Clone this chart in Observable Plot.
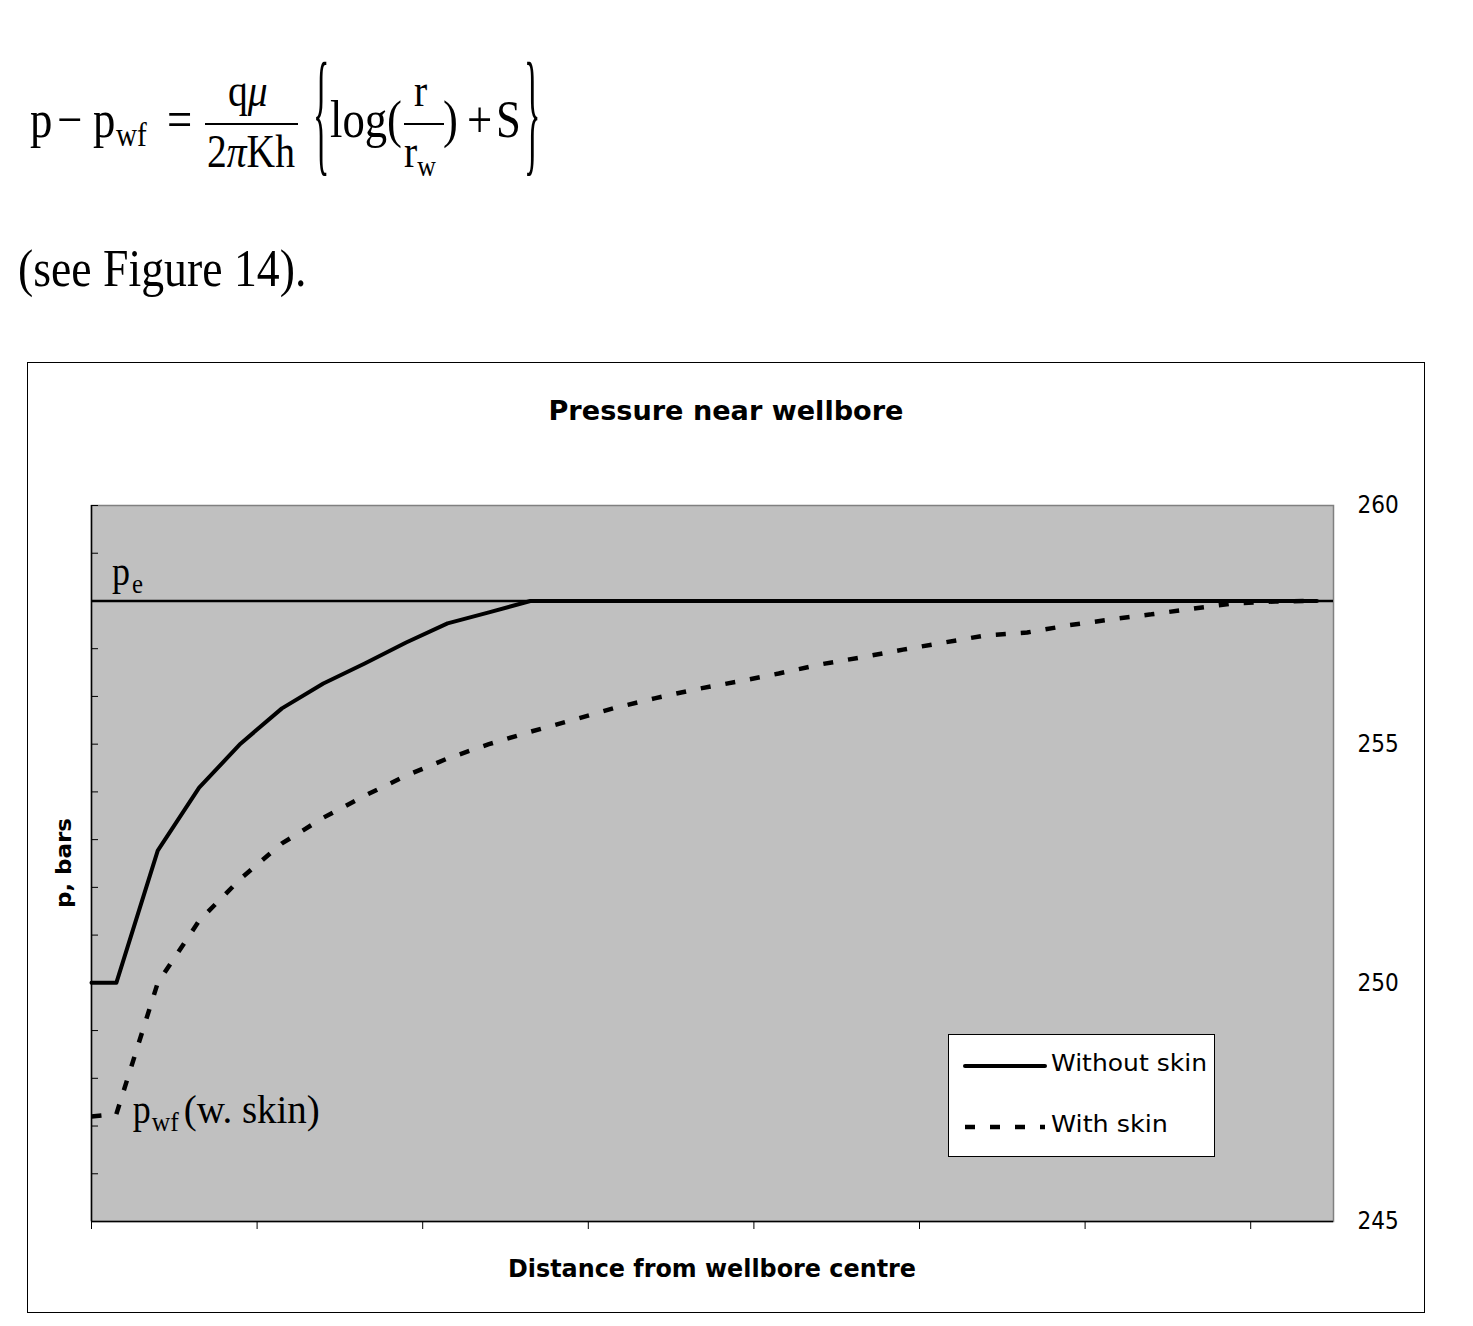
<!DOCTYPE html>
<html><head><meta charset="utf-8">
<script src="https://cdn.jsdelivr.net/npm/d3@7"></script>
<script src="https://cdn.jsdelivr.net/npm/@observablehq/plot@0.6"></script>
<style>
html,body{margin:0;padding:0;background:#fff;overflow:hidden;}
#page{position:relative;width:1473px;height:1326px;}
#page > *{position:absolute;left:0;top:0;}
#box{left:27px;top:362px;width:1398px;height:951px;border:1px solid #000;box-sizing:border-box;}
svg text{white-space:pre;}
</style></head>
<body><div id="page">
<svg id="head" width="1473" height="360"></svg>
<div id="box"></div>
<div id="chart"></div>
<svg id="over" width="1473" height="1326"></svg>
</div>
<script>
// ---- data ----
const distance = [0, 0.6, 1.6, 2.6, 3.6, 4.6, 5.6, 6.6, 7.6, 8.6, 9.6, 10.6, 11.6, 12.6, 13.6, 14.6, 15.6, 16.6, 17.6, 18.6, 19.6, 20.6, 21.6, 22.6, 23.6, 24.6, 25.6, 26.6, 27.6, 28.6, 29.6];
const withoutSkin = [250, 250, 252.77, 254.09, 255.01, 255.75, 256.27, 256.69, 257.13, 257.53, 257.76, 258, 258, 258, 258, 258, 258, 258, 258, 258, 258, 258, 258, 258, 258, 258, 258, 258, 258, 258, 258];
const withSkin = [247.2, 247.25, 250.0, 251.3, 252.18, 252.92, 253.46, 253.92, 254.34, 254.7, 255.0, 255.26, 255.5, 255.75, 255.96, 256.15, 256.31, 256.48, 256.67, 256.82, 256.98, 257.13, 257.28, 257.34, 257.49, 257.61, 257.72, 257.84, 257.95, 257.99, 258.0];
const pressureLabels = [245, 250, 255, 260];
const pressureMinorTicks = [245, 246, 247, 248, 249, 250, 251, 252, 253, 254, 255, 256, 257, 258, 259, 260];
const distanceTicks = [0, 4, 8, 12, 16, 20, 24, 28];
const reservoirPressure = [258];
const seriesNames = ["Without skin", "With skin"];

const rowsA = distance.map((d, i) => ({d, p: withoutSkin[i]}));
const rowsB = distance.map((d, i) => ({d, p: withSkin[i]}));

const chart = Plot.plot({
  width: 1473, height: 1326,
  marginLeft: 91, marginRight: 140, marginTop: 505, marginBottom: 105,
  x: {domain: [0, 30]},
  y: {domain: [245, 260]},
  style: {background: "transparent", fontFamily: "'DejaVu Sans Condensed','DejaVu Sans',sans-serif", fontSize: "24px", color: "#000", fontStretch: "condensed"},
  marks: [
    Plot.frame({fill: "#c0c0c0", stroke: "#808080", strokeWidth: 1.5}),
    Plot.axisY({anchor: "left", ticks: pressureMinorTicks, tickSize: 7, dx: 7, tickFormat: () => "", label: null, stroke: "#000"}),
    Plot.axisY({anchor: "right", ticks: pressureLabels, tickSize: 0, tickPadding: 24, label: null, fontSize: 24}),
    Plot.axisX({ticks: distanceTicks, tickSize: 8, tickFormat: () => "", label: null, stroke: "#000"}),
    Plot.ruleX([0], {stroke: "#000", strokeWidth: 1.5}),
    Plot.ruleY([245], {stroke: "#000", strokeWidth: 1.5}),
    Plot.ruleY(reservoirPressure, {stroke: "#000", strokeWidth: 2.5}),
    Plot.line(rowsB, {x: "d", y: "p", stroke: "#000", strokeWidth: 4.5, strokeDasharray: "10,15", strokeLinecap: "butt", strokeLinejoin: "miter"}),
    Plot.line(rowsA, {x: "d", y: "p", stroke: "#000", strokeWidth: 4})
  ]
});
document.getElementById("chart").appendChild(chart);

const sx = v => chart.scale("x").apply(v);
const sy = v => chart.scale("y").apply(v);

const SERIF = "'Liberation Serif','Times New Roman',serif";
const SANS = "'DejaVu Sans',sans-serif";
function t(sel, str, x, y, fs, len, extra = {}) {
  const e = sel.append("text").attr("x", x).attr("y", y).attr("font-size", fs)
    .attr("font-family", extra.family || SERIF).attr("fill", "#000").text(str);
  if (len) e.attr("textLength", len).attr("lengthAdjust", "spacingAndGlyphs");
  if (extra.italic) e.attr("font-style", "italic");
  if (extra.weight) e.attr("font-weight", extra.weight);
  if (extra.anchor) e.attr("text-anchor", extra.anchor);
  return e;
}

// ---- header text (formula), horizontally condensed serif ----
const head = d3.select("#head");
const K = 0.86;
const hg = head.append("g").attr("transform", `scale(${K},1)`);
const ht = (str, X, y, fs, italic) => t(hg, str, X / K, y, fs, null, {italic});
ht("p", 30, 137, 52);
ht("\u2212", 57, 137, 52);
ht("p", 93, 137, 52);
ht("wf", 116, 146, 34);
ht("=", 167, 137, 52);
const num = ht("q", 228, 106, 46);
num.append("tspan").attr("font-style", "italic").text("\u03bc");
head.append("line").attr("x1", 205).attr("x2", 298).attr("y1", 124).attr("y2", 124).attr("stroke", "#000").attr("stroke-width", 2);
const den = ht("2", 207, 167, 46);
den.append("tspan").attr("font-style", "italic").text("\u03c0");
den.append("tspan").text("Kh");
ht("log(", 330, 137, 52);
ht("r", 414, 106, 46);
head.append("line").attr("x1", 404).attr("x2", 444).attr("y1", 124).attr("y2", 124).attr("stroke", "#000").attr("stroke-width", 2);
const rw = ht("r", 404, 167, 46);
rw.append("tspan").attr("font-size", 30).attr("dy", 9).text("w");
ht(")", 443, 137, 52);
ht("+", 467, 137, 52);
ht("S", 496, 137, 52);
head.append("text").attr("transform", "translate(313,158) scale(0.25,1)").attr("font-size", 137)
  .attr("font-family", SERIF).text("{");
head.append("text").attr("transform", "translate(524,158) scale(0.25,1)").attr("font-size", 137)
  .attr("font-family", SERIF).text("}");
const sg = head.append("g").attr("transform", "scale(0.88,1)");
t(sg, "(see Figure 14).", 18 / 0.88, 286, 52);

// ---- overlay: title, axis titles, annotations, legend ----
const over = d3.select("#over");
t(over, "Pressure near wellbore", 726, 420, 27, 355, {family: SANS, weight: "bold", anchor: "middle"});
t(over, "Distance from wellbore centre", 712, 1277, 24, 408, {family: SANS, weight: "bold", anchor: "middle"});
over.append("text").attr("transform", "translate(71,863) rotate(-90)").attr("text-anchor", "middle")
  .attr("font-family", SANS).attr("font-weight", "bold").attr("font-size", 22)
  .attr("textLength", 90).attr("lengthAdjust", "spacingAndGlyphs").text("p, bars");

// p_e annotation near the reservoir-pressure line
const peX = sx(0) + 21, peY = sy(reservoirPressure[0]) - 15;
t(over, "p", peX, peY, 42, 18);
t(over, "e", peX + 20, peY + 8, 27, 11);
// p_wf (w. skin) annotation near the start of the skin curve
const pwX = sx(distance[1]) + 17, pwY = sy(withSkin[0]) + 7;
t(over, "p", pwX, pwY, 42, 18);
t(over, "wf", pwX + 19, pwY + 8, 27, 27);
t(over, "(w. skin)", pwX + 51, pwY, 40, 136);

// legend
const lg = over.append("g");
lg.append("rect").attr("x", 948.5).attr("y", 1034.5).attr("width", 266).attr("height", 122)
  .attr("fill", "#fff").attr("stroke", "#000").attr("stroke-width", 1);
lg.append("line").attr("x1", 965).attr("x2", 1045).attr("y1", 1066).attr("y2", 1066)
  .attr("stroke", "#000").attr("stroke-width", 4).attr("stroke-linecap", "round");
lg.append("line").attr("x1", 965).attr("x2", 1045).attr("y1", 1127).attr("y2", 1127)
  .attr("stroke", "#000").attr("stroke-width", 4.5).attr("stroke-dasharray", "10,15");
t(lg, seriesNames[0], 1051, 1071, 23, 156, {family: SANS});
t(lg, seriesNames[1], 1051, 1132, 23, 117, {family: SANS});
</script>
</body></html>
